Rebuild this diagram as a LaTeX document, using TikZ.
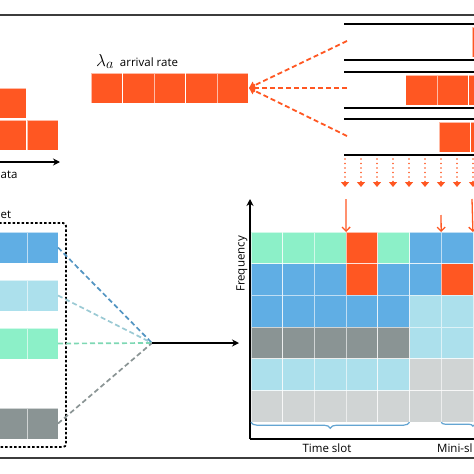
\documentclass[tikz,border=0pt]{standalone}
\usepackage{fontspec}
\setmainfont{Open Sans}
\usetikzlibrary{arrows.meta,decorations.pathreplacing}
\definecolor{org}{RGB}{255,87,34}
\definecolor{grn}{RGB}{140,240,200}
\definecolor{blu}{RGB}{96,174,228}
\definecolor{lblu}{RGB}{172,224,236}
\definecolor{gry}{RGB}{138,148,148}
\definecolor{lgry}{RGB}{208,212,212}
\definecolor{dline}{RGB}{60,60,60}
\definecolor{brc}{RGB}{100,165,210}
\tikzset{
  cell/.style={fill=#1, draw=white, draw opacity=0.6, line width=0.7pt, minimum width=31.7pt, minimum height=31.7pt, inner sep=0pt, outer sep=0pt},
  ocell/.style={fill=org, draw=white, draw opacity=0.6, line width=0.8pt, inner sep=0pt, outer sep=0pt, minimum width=31.4pt, minimum height=30pt},
  chan/.style={line width=1.5pt, black},
  fan/.style={org, line width=1.8pt, dash pattern=on 5pt off 3pt},
  dotarr/.style={org, line width=1.8pt, line cap=round, dash pattern=on 0pt off 4.5pt, -{Triangle[width=8pt,length=5pt]}},
  downarr/.style={org, line width=1.3pt, -{Straight Barb[length=4pt,width=8pt]}},
  lbl/.style={font=\fontsize{11.5}{13}\selectfont, inner sep=0pt},
  seg/.style={line width=1.7pt, dash pattern=on 5pt off 3pt},
}
\begin{document}
\begin{tikzpicture}[x=1pt,y=-1pt]
\clip (0,0) rectangle (474,474);
\fill[white] (0,0) rectangle (474,474);
% frame lines
\draw[dline, line width=1.4pt] (0,15) -- (474,15);
\draw[dline, line width=1.4pt] (0,458) -- (474,458);

% left stacked blocks
\node[ocell, anchor=north west, minimum width=31pt] (s1) at (-5,88) {};
\node[ocell, anchor=north west, minimum width=31pt] (s2) at (-5,120) {};
\node[ocell, anchor=north west, minimum width=31pt] (s3) at (27,120) {};
\coordinate (dA) at (-2,162);
\coordinate (dB) at (60,162);
\draw[line width=1.4pt, -{Stealth[length=7pt,width=7pt]}] (dA) -- (dB);
\node[lbl, anchor=west] (tdata) at (0.5,175) {ata};

% arrival rate bar
\node[lbl, anchor=base west] (lam) at (96,66) {{\fontsize{19}{19}\selectfont$\lambda_a$}\ \ arrival rate};
\foreach \i in {0,...,4} {
  \node[ocell, anchor=north west] (b\i) at ({91+31.5*\i},73) {};
}
% fan-out dashed
\coordinate (f1) at (347,41);
\coordinate (f2) at (347,88);
\coordinate (f3) at (347,136);
\coordinate (fo) at (249,88);
\foreach \f in {f1,f2,f3} {
  \draw[fan, -{Triangle[width=8pt,length=6pt]}] (\f) -- (fo);
}

% channels
\foreach \y in {24,60,72,108,119,155} {
  \draw[chan] (344,\y) -- (474,\y);
}
\node[ocell, anchor=north west] (c1a) at (472,27) {};
\node[ocell, anchor=north west] (c2a) at (405.5,75) {};
\node[ocell, anchor=north west] (c2b) at (437,75) {};
\node[ocell, anchor=north west] (c2c) at (468.5,75) {};
\node[ocell, anchor=north west] (c3a) at (439,122) {};
\node[ocell, anchor=north west] (c3b) at (470.5,122) {};

% dotted arrows
\foreach \k in {0,...,8} {
  \coordinate (dt\k) at ({345+16*\k},159);
  \coordinate (db\k) at ({345+16*\k},187);
  \draw[dotarr] (dt\k) -- (db\k);
}

% grid
\def\gx{251}\def\gy{232}\def\gw{31.7}
\foreach \r/\row in {0/{grn,grn,grn,org,grn,blu,blu,lblu},
                     1/{blu,blu,blu,org,blu,blu,org,lblu},
                     2/{blu,blu,blu,blu,blu,lblu,lblu,lblu},
                     3/{gry,gry,gry,gry,gry,lblu,lblu,lblu},
                     4/{lblu,lblu,lblu,lblu,lblu,lgry,lgry,lgry},
                     5/{lgry,lgry,lgry,lgry,lgry,lgry,lgry,lgry}} {
  \foreach \c [count=\j from 0] in \row {
    \node[cell=\c, anchor=north west] (g\r-\j) at ({\gx+\gw*\j},{\gy+\gw*\r}) {};
  }
}
% axes
\coordinate (ax0) at (250,439);
\coordinate (axy) at (250,199);
\coordinate (axx) at (480,439);
\draw[line width=1.4pt, -{Stealth[length=7pt,width=7pt]}] (ax0) -- (axy);
\draw[line width=1.4pt] (ax0) -- (axx);
\node[lbl, rotate=90] (freq) at (242,264) {Frequency};

% orange down arrows
\coordinate (oa1) at (346,199);
\coordinate (oa2) at (441,215);
\coordinate (oa3) at (472,199);
\draw[downarr] (oa1) -- (g0-3.north west);
\draw[downarr] (oa2) -- (g0-6.north west);
\draw[downarr] (oa3) -- (g0-7.north west);

% braces
\draw[brc, line width=1.2pt, decorate, decoration={brace, mirror, amplitude=6pt}] (g5-0.south west) -- (g5-4.south east);
\draw[brc, line width=1.2pt, decorate, decoration={brace, mirror, amplitude=4pt}] (g5-6.south west) -- (g5-7.south east);
\node[lbl] (ts) at (327,448) {Time slot};
\node[lbl, anchor=west] (ms) at (437,448) {Mini-sl};

% left set
\node[lbl, anchor=west] (tset) at (0.5,215) {et};
\draw[line width=1.8pt, dash pattern=on 2.5pt off 2pt, rounded corners=3pt] (-10,223) -- (66,223) -- (66,447) -- (-10,447);
\foreach \n/\y/\c in {u/232/blu, v/280/lblu, w/328/grn, z/408/gry} {
  \node[cell=\c, anchor=north west, minimum width=31pt, minimum height=31pt] (\n0) at (-4,\y) {};
  \node[cell=\c, anchor=north west, minimum width=31pt, minimum height=31pt] (\n1) at (27,\y) {};
}
\coordinate (conv) at (152,343);
\coordinate (convend) at (239,343);
\draw[seg, blu!85!black] (u1.east) -- (conv);
\draw[seg, lblu!90!black] (v1.east) -- (conv);
\draw[seg, grn!90!black] (w1.east) -- (conv);
\draw[seg, gry] (z1.east) -- (conv);
\draw[line width=1.2pt, -{Stealth[length=7pt,width=7pt]}] (conv) -- (convend);
\end{tikzpicture}
\end{document}
